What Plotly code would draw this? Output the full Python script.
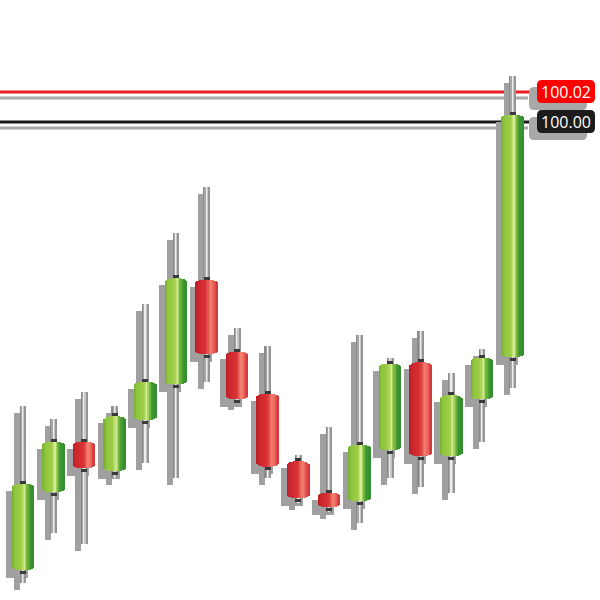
import numpy as np
import plotly.graph_objects as go

# ---- data ----
opens  = [99.701, 99.753, 99.787, 99.767, 99.801, 99.825, 99.895, 99.847, 99.819,
          99.774, 99.753, 99.747, 99.781, 99.840, 99.777, 99.815, 99.843]
highs  = [99.811, 99.802, 99.820, 99.811, 99.879, 99.926, 99.957, 99.863, 99.851,
          99.778, 99.797, 99.858, 99.843, 99.861, 99.833, 99.849, 100.031]
lows   = [99.693, 99.726, 99.719, 99.763, 99.773, 99.763, 99.827, 99.813, 99.763,
          99.746, 99.740, 99.733, 99.763, 99.757, 99.753, 99.787, 99.823]
closes = [99.759, 99.787, 99.769, 99.804, 99.827, 99.896, 99.845, 99.815, 99.770,
          99.749, 99.743, 99.785, 99.839, 99.777, 99.818, 99.843, 100.005]
levels = [100.02, 100.00]
level_labels = ["100.02", "100.00"]

# ---- styling ----
PX = 1 / 1500.0      # price per screen pixel
UX = 1 / 30.6        # x units per screen pixel
SDX, SDY = -6 * UX, -7 * PX   # drop-shadow offset
BODY_W = 22 * UX
WICK_W = 6 * UX
SHADOW = "#a0a0a0"

n = len(opens)
xs = np.arange(n)
o = np.array(opens); c = np.array(closes); h = np.array(highs); l = np.array(lows)
up = c >= o
top = np.maximum(o, c); bot = np.minimum(o, c)


def interp(stops, t):
    for (t0, c0), (t1, c1) in zip(stops[:-1], stops[1:]):
        if t0 <= t <= t1:
            f = 0 if t1 == t0 else (t - t0) / (t1 - t0)
            rgb = [int(round(c0[k] + (c1[k] - c0[k]) * f)) for k in range(3)]
            return "rgb(%d,%d,%d)" % tuple(rgb)
    return "rgb(%d,%d,%d)" % stops[-1][1]

green_stops = [(0.0, (110, 170, 45)), (0.12, (140, 196, 60)), (0.45, (160, 206, 72)),
               (0.58, (214, 238, 150)), (0.68, (130, 190, 62)), (0.85, (60, 150, 50)),
               (1.0, (52, 140, 48))]
red_stops = [(0.0, (185, 30, 38)), (0.15, (204, 38, 46)), (0.5, (218, 52, 56)),
             (0.7, (244, 130, 112)), (0.8, (238, 110, 96)), (0.92, (222, 70, 70)),
             (1.0, (205, 50, 55))]

fig = go.Figure()
common = dict(hoverinfo="skip", showlegend=False)

# shadows
fig.add_trace(go.Bar(x=xs, y=h - l, base=l + SDY, width=WICK_W, offset=-WICK_W / 2 + SDX,
                     marker=dict(color=SHADOW, line=dict(width=0)), **common))
fig.add_trace(go.Bar(x=xs, y=top - bot, base=bot + SDY, width=BODY_W, offset=-BODY_W / 2 + SDX,
                     marker=dict(color=SHADOW, line=dict(width=0)), **common))

# wicks (cylindrical shading)
wick_cols = ["#8a8a8a", "#a8a8a8", "#ececec", "#c8c8c8", "#959595"]
ns = len(wick_cols)
for k, col in enumerate(wick_cols):
    fig.add_trace(go.Bar(x=xs, y=h - l, base=l, width=WICK_W / ns,
                         offset=-WICK_W / 2 + k * WICK_W / ns,
                         marker=dict(color=col, line=dict(width=0)), **common))

# dark collars where wick meets body
cap = np.minimum(3 * PX, h - top)
fig.add_trace(go.Bar(x=xs, y=cap, base=top, width=WICK_W, offset=-WICK_W / 2,
                     marker=dict(color="#3a3a3a", line=dict(width=0)), **common))
capb = np.minimum(3 * PX, bot - l)
fig.add_trace(go.Bar(x=xs, y=capb, base=bot - capb, width=WICK_W, offset=-WICK_W / 2,
                     marker=dict(color="#3a3a3a", line=dict(width=0)), **common))

# bodies: vertical strips with gradient and rounded ends
NS = 18
R = 4 * PX
for k in range(NS):
    t = (k + 0.5) / NS
    tt = 2 * t - 1
    inset = R * (1 - np.sqrt(max(0.0, 1 - tt * tt)))
    cols = [interp(green_stops, t) if u else interp(red_stops, t) for u in up]
    fig.add_trace(go.Bar(x=xs, y=(top - bot) - 2 * inset, base=bot + inset,
                         width=BODY_W / NS * 1.05, offset=-BODY_W / 2 + k * BODY_W / NS,
                         marker=dict(color=cols, line=dict(width=0)), **common))

# level lines (below traces)
shapes = []
line_cols = ["#ec1c24", "#1a1a1a"]
for lv in levels:
    shapes.append(dict(type="line", xref="paper", yref="y", x0=0, x1=0.88,
                       y0=lv - 6 * PX, y1=lv - 6 * PX, layer="below",
                       line=dict(color="#a8a8a8", width=3)))
for lv, lc in zip(levels, line_cols):
    shapes.append(dict(type="line", xref="paper", yref="y", x0=0, x1=0.893,
                       y0=lv, y1=lv, layer="below", line=dict(color=lc, width=3)))


def rrect(x0, x1, y0, y1, rx, ry):
    return (f"M {x0+rx},{y1} L {x1-rx},{y1} Q {x1},{y1} {x1},{y1-ry} "
            f"L {x1},{y0+ry} Q {x1},{y0} {x1-rx},{y0} L {x0+rx},{y0} "
            f"Q {x0},{y0} {x0},{y0+ry} L {x0},{y1-ry} Q {x0},{y1} {x0+rx},{y1} Z")

box_cols = ["#ff0000", "#1c1c1c"]
bx0, bx1 = 537 / 600, 595 / 600
half = 11.5 * PX
annotations = []
for lv, bc, lab in zip(levels, box_cols, level_labels):
    yc = lv + 0.5 * PX
    shapes.append(dict(type="path", xref="paper", yref="y", layer="above",
                       path=rrect(bx0 - 8 / 600, bx1 - 8 / 600, yc - half - 7 * PX, yc + half - 7 * PX,
                                  5 / 600, 5 * PX),
                       fillcolor="#a8a8a8", line=dict(width=0)))
for lv, bc, lab in zip(levels, box_cols, level_labels):
    yc = lv + 0.5 * PX
    shapes.append(dict(type="path", xref="paper", yref="y", layer="above",
                       path=rrect(bx0, bx1, yc - half, yc + half, 5 / 600, 5 * PX),
                       fillcolor=bc, line=dict(width=0)))
    annotations.append(dict(xref="paper", yref="y", x=(bx0 + bx1) / 2, y=yc, text=lab,
                            showarrow=False, font=dict(color="white", size=16, family="Open Sans"),
                            xanchor="center", yanchor="middle"))

y_top = 100.0 + 122 * PX
y_bot = 100.0 - 478 * PX
fig.update_layout(
    width=600, height=600, autosize=False,
    margin=dict(l=0, r=0, t=0, b=0),
    paper_bgcolor="white", plot_bgcolor="white",
    barmode="overlay", bargap=0,
    xaxis=dict(range=[-23 * UX, (600 - 23) * UX], visible=False, fixedrange=True),
    yaxis=dict(range=[y_bot, y_top], visible=False, fixedrange=True),
    shapes=shapes, annotations=annotations,
)
fig.write_html("out.html", config={"displayModeBar": False},
               post_script="document.body.style.margin='0';document.body.style.overflow='hidden';")
